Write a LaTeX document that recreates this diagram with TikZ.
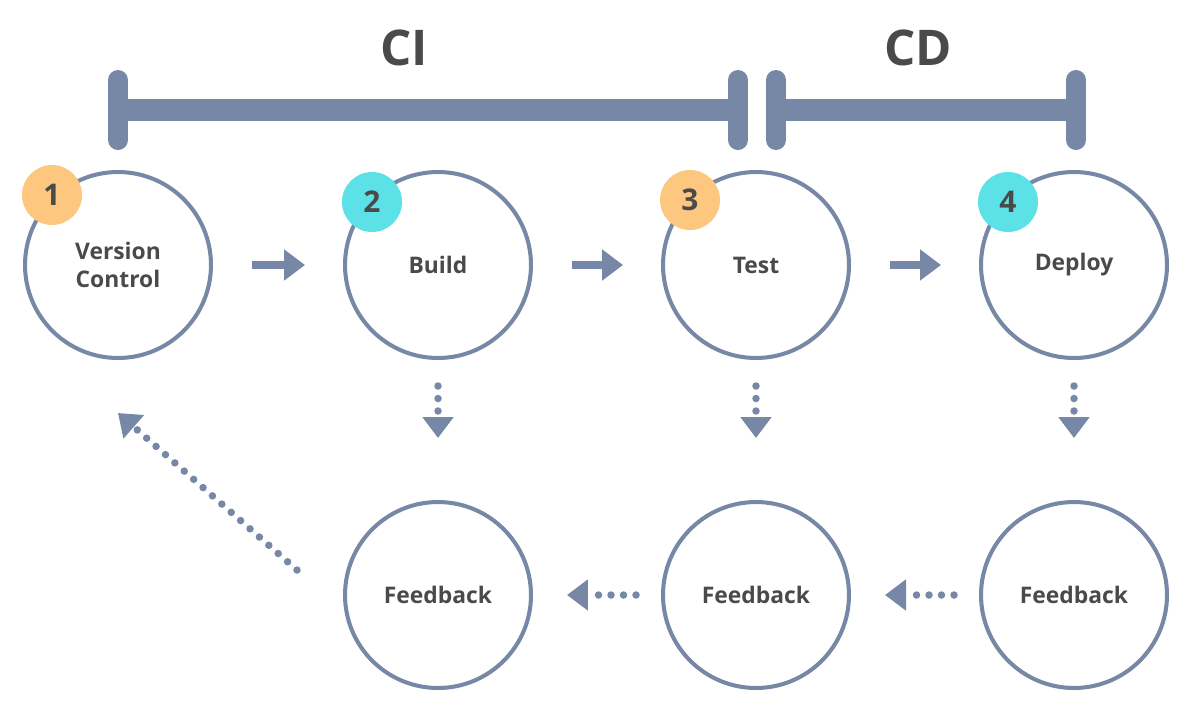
\documentclass[tikz,border=0pt]{standalone}
\usepackage{fontspec}
\setmainfont{Open Sans}
\usetikzlibrary{arrows.meta, positioning}
\definecolor{pipeblue}{HTML}{7688A5}
\definecolor{badgeorange}{HTML}{FEC77F}
\definecolor{badgecyan}{HTML}{5CE1E6}
\definecolor{labelgray}{HTML}{4A4A4A}
\tikzset{
    stage/.style={circle, draw=pipeblue, line width=2.3pt, fill=white, minimum size=3.72cm,
                  align=center, font=\fontsize{13}{16}\selectfont\bfseries, text=labelgray},
    badge/.style={circle, minimum size=1.2cm, font=\fontsize{17}{17}\selectfont\bfseries, text=labelgray},
    bar/.style={pipeblue, line width=0.44cm},
    barend/.style={pipeblue, line width=0.4cm, line cap=round},
    arrow/.style={-{Triangle[length=0.42cm, width=0.6cm]}, pipeblue, line width=0.17cm},
    dotarrow/.style={-{Triangle[length=0.42cm, width=0.6cm]}, pipeblue, line width=0.15cm,
                     line cap=round, dash pattern=on 0pt off 0.25cm},
}
\begin{document}
\begin{tikzpicture}[x=0.02cm, y=-0.02cm]
    \useasboundingbox (0,0) rectangle (1200,718);
    % CI / CD bars
    \draw[bar] (118,110) -- (738,110);
    \draw[bar] (776,110) -- (1076,110);
    \foreach \x in {118, 738, 776, 1076}
        \draw[barend] (\x,80) -- (\x,140);
    \node[font=\fontsize{28}{28}\selectfont\bfseries, text=labelgray] (ci) at (404,48) {CI};
    \node[font=\fontsize{28}{28}\selectfont\bfseries, text=labelgray] (cd) at (918,48) {CD};

    % stages
    \node[stage] (vc) at (118,265) {Version\\Control};
    \node[stage] (build) at (438,265) {Build};
    \node[stage] (test) at (756,265) {Test};
    \node[stage] (deploy) at (1074,265) {Deploy};
    \node[stage] (fbBuild) at (438,595) {Feedback};
    \node[stage] (fbTest) at (756,595) {Feedback};
    \node[stage] (fbDeploy) at (1074,595) {Feedback};

    % badges
    \node[badge, fill=badgeorange] (b1) at (52,195) {1};
    \node[badge, fill=badgecyan] (b2) at (372,202) {2};
    \node[badge, fill=badgeorange] (b3) at (690,200) {3};
    \node[badge, fill=badgecyan] (b4) at (1008,202) {4};

    % flow
    \draw[arrow, shorten <=0.78cm, shorten >=0.76cm] (vc) -- (build);
    \draw[arrow, shorten <=0.78cm, shorten >=0.76cm] (build) -- (test);
    \draw[arrow, shorten <=0.78cm, shorten >=0.76cm] (test) -- (deploy);

    % feedback
    \draw[dotarrow, shorten <=0.52cm, shorten >=1.24cm] (build) -- (fbBuild);
    \draw[dotarrow, shorten <=0.52cm, shorten >=1.24cm] (test) -- (fbTest);
    \draw[dotarrow, shorten <=0.52cm, shorten >=1.24cm] (deploy) -- (fbDeploy);
    \draw[dotarrow, shorten <=0.5cm, shorten >=0.68cm] (fbDeploy) -- (fbTest);
    \draw[dotarrow, shorten <=0.5cm, shorten >=0.68cm] (fbTest) -- (fbBuild);
    \coordinate (fbTail) at (297,570);
    \coordinate (fbHead) at (118,413);
    \draw[dotarrow] (fbTail) -- (fbHead);
\end{tikzpicture}
\end{document}
